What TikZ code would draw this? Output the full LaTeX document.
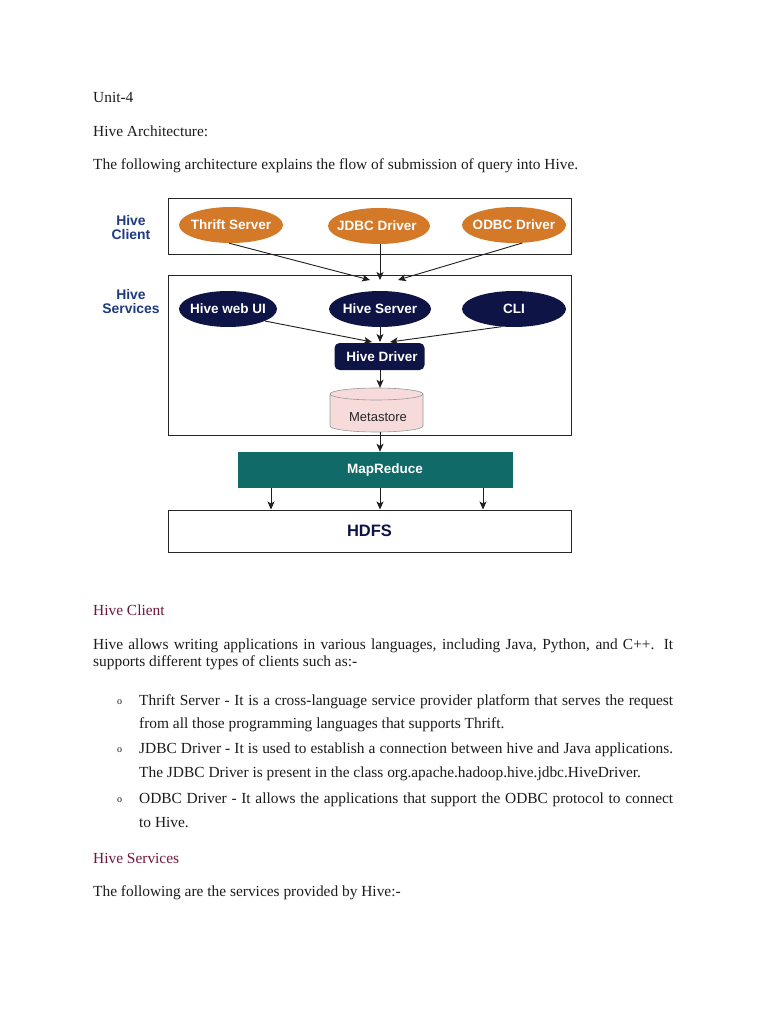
\documentclass[tikz,border=0pt]{standalone}
\usepackage{fontspec}
\setmainfont{Liberation Serif}
\newfontfamily\arial{Liberation Sans}
\usetikzlibrary{shapes.geometric,arrows.meta,calc}
\definecolor{orng}{RGB}{212,121,40}
\definecolor{navy}{RGB}{15,20,70}
\definecolor{tealmr}{RGB}{16,106,104}
\definecolor{pinkf}{RGB}{247,218,218}
\definecolor{lblue}{RGB}{30,58,128}
\definecolor{maroonh}{RGB}{112,22,62}
\definecolor{txt}{RGB}{28,28,28}
\begin{document}
\begin{tikzpicture}[x=1pt,y=-1pt,
 body/.style={anchor=base west, inner sep=0pt, font=\fontsize{15.4}{17}\selectfont, text=txt},
 head/.style={body, text=maroonh},
 oval/.style={ellipse, inner sep=0pt, minimum height=36pt, text=white, font=\arial\bfseries\fontsize{13.5}{15}\selectfont},
 cl/.style={oval, fill=orng, minimum width=104pt},
 sv/.style={oval, fill=navy, minimum width=102pt},
 frame/.style={draw=black!85, line width=1pt, inner sep=0pt},
 arr/.style={-{Stealth[length=8pt,width=7pt,inset=2pt]}, line width=0.9pt, draw=black!88},
 side/.style={align=center, text=lblue, font=\arial\bfseries\fontsize{13.9}{14}\selectfont},
 bul/.style={anchor=base west, inner sep=0pt, font=\fontsize{10}{12}\selectfont, text=txt}
]
\useasboundingbox[fill=white] (0,0) rectangle (768,1024);

% header text
\node[body] (t1) at (93,102.5) {Unit-4};
\node[body] (t2) at (93,136.5) {Hive Architecture:};
\node[body] (t3) at (93,169.5) {The following architecture explains the flow of submission of query into Hive.};

% frames
\node[frame, minimum width=403pt, minimum height=55pt] (cbox) at (369.5,226.5) {};
\node[frame, minimum width=403pt, minimum height=160pt] (sbox) at (369.5,355) {};
\node[frame, minimum width=403pt, minimum height=42pt, text=navy, font=\arial\bfseries\fontsize{16.5}{18}\selectfont] (hdfs) at (369.5,531) {HDFS};

\node[side] (lc) at (131,228) {Hive\\Client};
\node[side] (ls) at (131,301.5) {Hive\\Services};

% client
\node[cl] (thrift) at (231,225) {\makebox[0pt]{Thrift Server}};
\node[cl, minimum width=102pt] (jdbc) at (379,226) {\makebox[0pt]{JDBC Driver\hspace{4pt}}};
\node[cl] (odbc) at (514,225) {\makebox[0pt]{ODBC Driver}};

% services
\node[sv, minimum width=98pt] (webui) at (228,309) {\makebox[0pt]{Hive web UI}};
\node[sv] (hserver) at (380,309) {\makebox[0pt]{Hive Server}};
\node[sv, minimum width=104pt] (cli) at (514,309) {\makebox[0pt]{CLI}};

\node[fill=navy, rounded corners=5pt, minimum width=90pt, minimum height=27pt, inner sep=0pt, text=white, font=\arial\bfseries\fontsize{13.5}{15}\selectfont] (driver) at (379.5,356.5) {\makebox[0pt]{\hspace{5pt}Hive Driver}};

% metastore cylinder
\node[minimum width=93pt, minimum height=44pt, inner sep=0pt] (meta) at (376.5,410) {};
\path[fill=pinkf, draw=black!40, line width=0.6pt] (330,394) -- (330,426)
  arc[start angle=180, end angle=360, x radius=46.5pt, y radius=6pt] -- (423,394)
  arc[start angle=0, end angle=180, x radius=46.5pt, y radius=6pt] -- cycle;
\draw[black!40, line width=0.6pt] (330,394) arc[start angle=180, end angle=360, x radius=46.5pt, y radius=6pt];
\node[inner sep=0pt, font=\arial\fontsize{13}{15}\selectfont, text=black!85] (metat) at (378,417) {Metastore};

\node[fill=tealmr, minimum width=275pt, minimum height=36pt, inner sep=0pt, text=white, font=\arial\bfseries\fontsize{13.5}{15}\selectfont] (mr) at (375.5,470) {\makebox[0pt]{\hspace{19pt}MapReduce}};

% arrow targets
\coordinate (a1) at (370,280);
\coordinate (a2) at (380,280);
\coordinate (a3) at (398,280);
\coordinate (b1) at (372,342);
\coordinate (b2) at (380,342);
\coordinate (b3) at (390,342);

\draw[arr] (thrift.-96) -- (a1);
\draw[arr] (jdbc.south -| a2) -- (a2);
\draw[arr] (odbc.-65) -- (a3);
\draw[arr] (webui.-18) -- (b1);
\draw[arr] (hserver.south) -- (b2);
\draw[arr] (cli.-125) -- (b3);
\draw[arr] (hserver.south |- driver.south) -- (hserver.south |- meta.north);
\draw[arr] (hserver.south |- meta.south) -- (hserver.south |- mr.north);
\draw[arr] (271,488) coordinate (m1) -- (m1 |- hdfs.north);
\draw[arr] (380,488) coordinate (m2) -- (m2 |- hdfs.north);
\draw[arr] (483,488) coordinate (m3) -- (m3 |- hdfs.north);

% lower text
\node[head] (h1) at (93,615.5) {Hive Client};
\node[body] (p1) at (93,649.5) {\makebox[580pt][s]{Hive allows writing applications in various languages, including Java, Python, and C++. It}};
\node[body] (p2) at (93,666.5) {supports different types of clients such as:-};

\node[bul] (o1) at (117,704.5) {o};
\node[body] (l1) at (139,705.5) {\makebox[534pt][s]{Thrift Server - It is a cross-language service provider platform that serves the request}};
\node[body] (l2) at (139,728.5) {from all those programming languages that supports Thrift.};
\node[bul] (o2) at (117,752.5) {o};
\node[body] (l3) at (139,753.5) {\makebox[534pt][s]{JDBC Driver - It is used to establish a connection between hive and Java applications.}};
\node[body] (l4) at (139,777.5) {The JDBC Driver is present in the class org.apache.hadoop.hive.jdbc.HiveDriver.};
\node[bul] (o3) at (117,802.5) {o};
\node[body] (l5) at (139,803.5) {\makebox[534pt][s]{ODBC Driver - It allows the applications that support the ODBC protocol to connect}};
\node[body] (l6) at (139,827.5) {to Hive.};

\node[head] (h2) at (93,863.5) {Hive Services};
\node[body] (p3) at (93,896.5) {The following are the services provided by Hive:-};
\end{tikzpicture}
\end{document}
